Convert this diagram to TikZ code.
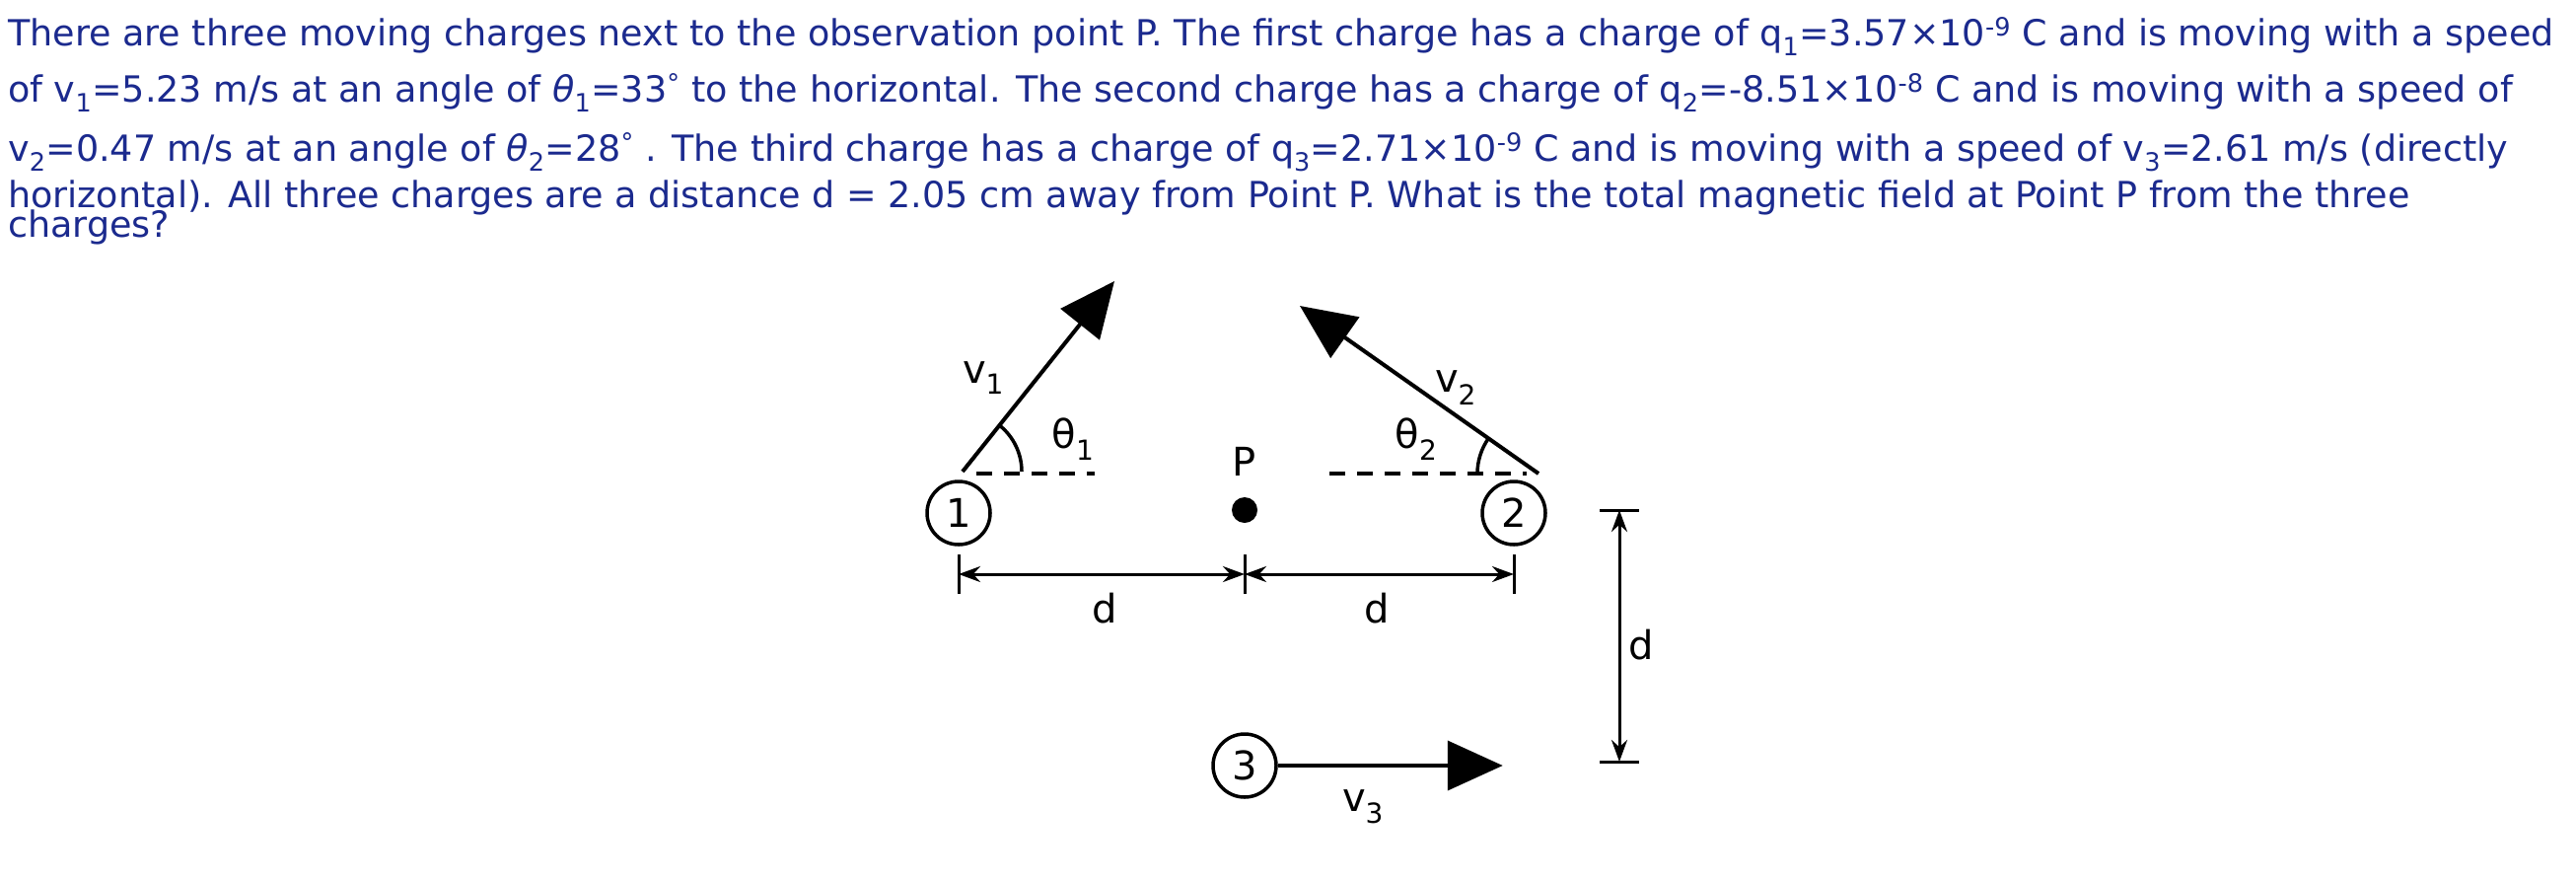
\documentclass[tikz,border=0pt]{standalone}
\usepackage{fontspec}
\setmainfont{DejaVu Sans}
\usetikzlibrary{arrows.meta}
\definecolor{txtblue}{HTML}{1B2A8E}
\begin{document}
\begin{tikzpicture}[x=1pt,y=-1pt,
  qline/.style={anchor=base west,inner sep=0,text=txtblue,font=\fontsize{36.5}{36.5}\selectfont},
  lab/.style={inner sep=0,font=\fontsize{40}{40}\selectfont},
  charge/.style={draw,circle,line width=3.5pt,minimum size=64pt,inner sep=0,font=\fontsize{40}{40}\selectfont},
  vel/.style={line width=4pt,-{Triangle[length=56pt,width=50pt]}},
  dim/.style={line width=3pt,{Stealth[length=22pt,width=16pt]}-{Stealth[length=22pt,width=16pt]}},
  tick/.style={line width=3pt},
  dashln/.style={line width=4pt,dash pattern=on 16pt off 12pt}]
\useasboundingbox (0,0) rectangle (2612,892);
\node[qline] (l1) at (8,46) {There are three moving charges next to the observation point P. The first charge has a charge of q\textsubscript{1}=3.57×10\textsuperscript{-9} C and is moving with a speed};
\node[qline] (l2) at (8,103) {of v\textsubscript{1}=5.23 m/s at an angle of \textit{θ}\textsubscript{1}=33\textsuperscript{°} to the horizontal. The second charge has a charge of q\textsubscript{2}=-8.51×10\textsuperscript{-8} C and is moving with a speed of};
\node[qline] (l3) at (8,163) {v\textsubscript{2}=0.47 m/s at an angle of \textit{θ}\textsubscript{2}=28\textsuperscript{°} . The third charge has a charge of q\textsubscript{3}=2.71×10\textsuperscript{-9} C and is moving with a speed of v\textsubscript{3}=2.61 m/s (directly};
\node[qline] (l4) at (8,210) {horizontal). All three charges are a distance d = 2.05 cm away from Point P. What is the total magnetic field at Point P from the three};
\node[qline] (l5) at (8,240) {charges?};

\node[charge] (c1) at (972,520) {1};
\node[charge] (c2) at (1535,520) {2};
\node[charge] (c3) at (1262,776) {3};
\node[circle,fill,minimum size=26pt,inner sep=0] (P) at (1262,517) {};
\node[lab] (Pl) at (1262,468) {P};

\coordinate (v1s) at (976,478);
\coordinate (v1e) at (1130,285);
\draw[vel] (v1s) -- (v1e);
\coordinate (v2s) at (1560,480);
\coordinate (v2e) at (1318,310);
\draw[vel] (v2s) -- (v2e);
\draw[vel] (c3.east) -- ++(228,0) coordinate (v3e);

\coordinate (h1a) at (990,480); \coordinate (h1b) at (1110,480);
\draw[dashln] (h1a) -- (h1b);
\coordinate (h2a) at (1348,480); \coordinate (h2b) at (1548,480);
\draw[dashln] (h2a) -- (h2b);
\draw[line width=3.5pt] (v1s) ++(-51:60) arc (-51:0:60);
\draw[line width=3.5pt] (v2s) ++(-145:62) arc (-145:-180:62);

\node[lab] (v1l) at (997,383) {v\textsubscript{1}};
\node[lab] (t1l) at (1088,445) {θ\textsubscript{1}};
\node[lab] (v2l) at (1476,393) {v\textsubscript{2}};
\node[lab] (t2l) at (1436,445) {θ\textsubscript{2}};

\coordinate (d1) at (972,582); \coordinate (dP) at (1262,582); \coordinate (d2) at (1535,582);
\draw[tick] (972,562) -- (972,602);
\draw[tick] (1262,562) -- (1262,602);
\draw[tick] (1535,562) -- (1535,602);
\draw[dim] (d1) -- (dP);
\draw[dim] (dP) -- (d2);
\node[lab] (dl1) at (1120,617) {d};
\node[lab] (dl2) at (1396,617) {d};

\coordinate (vt) at (1642,517); \coordinate (vb) at (1642,772);
\draw[tick] (1622,517) -- (1662,517);
\draw[tick] (1622,772) -- (1662,772);
\draw[dim] (vt) -- (vb);
\node[lab] (dl3) at (1664,654) {d};
\node[lab] (v3l) at (1382,818) {v\textsubscript{3}};
\end{tikzpicture}
\end{document}
